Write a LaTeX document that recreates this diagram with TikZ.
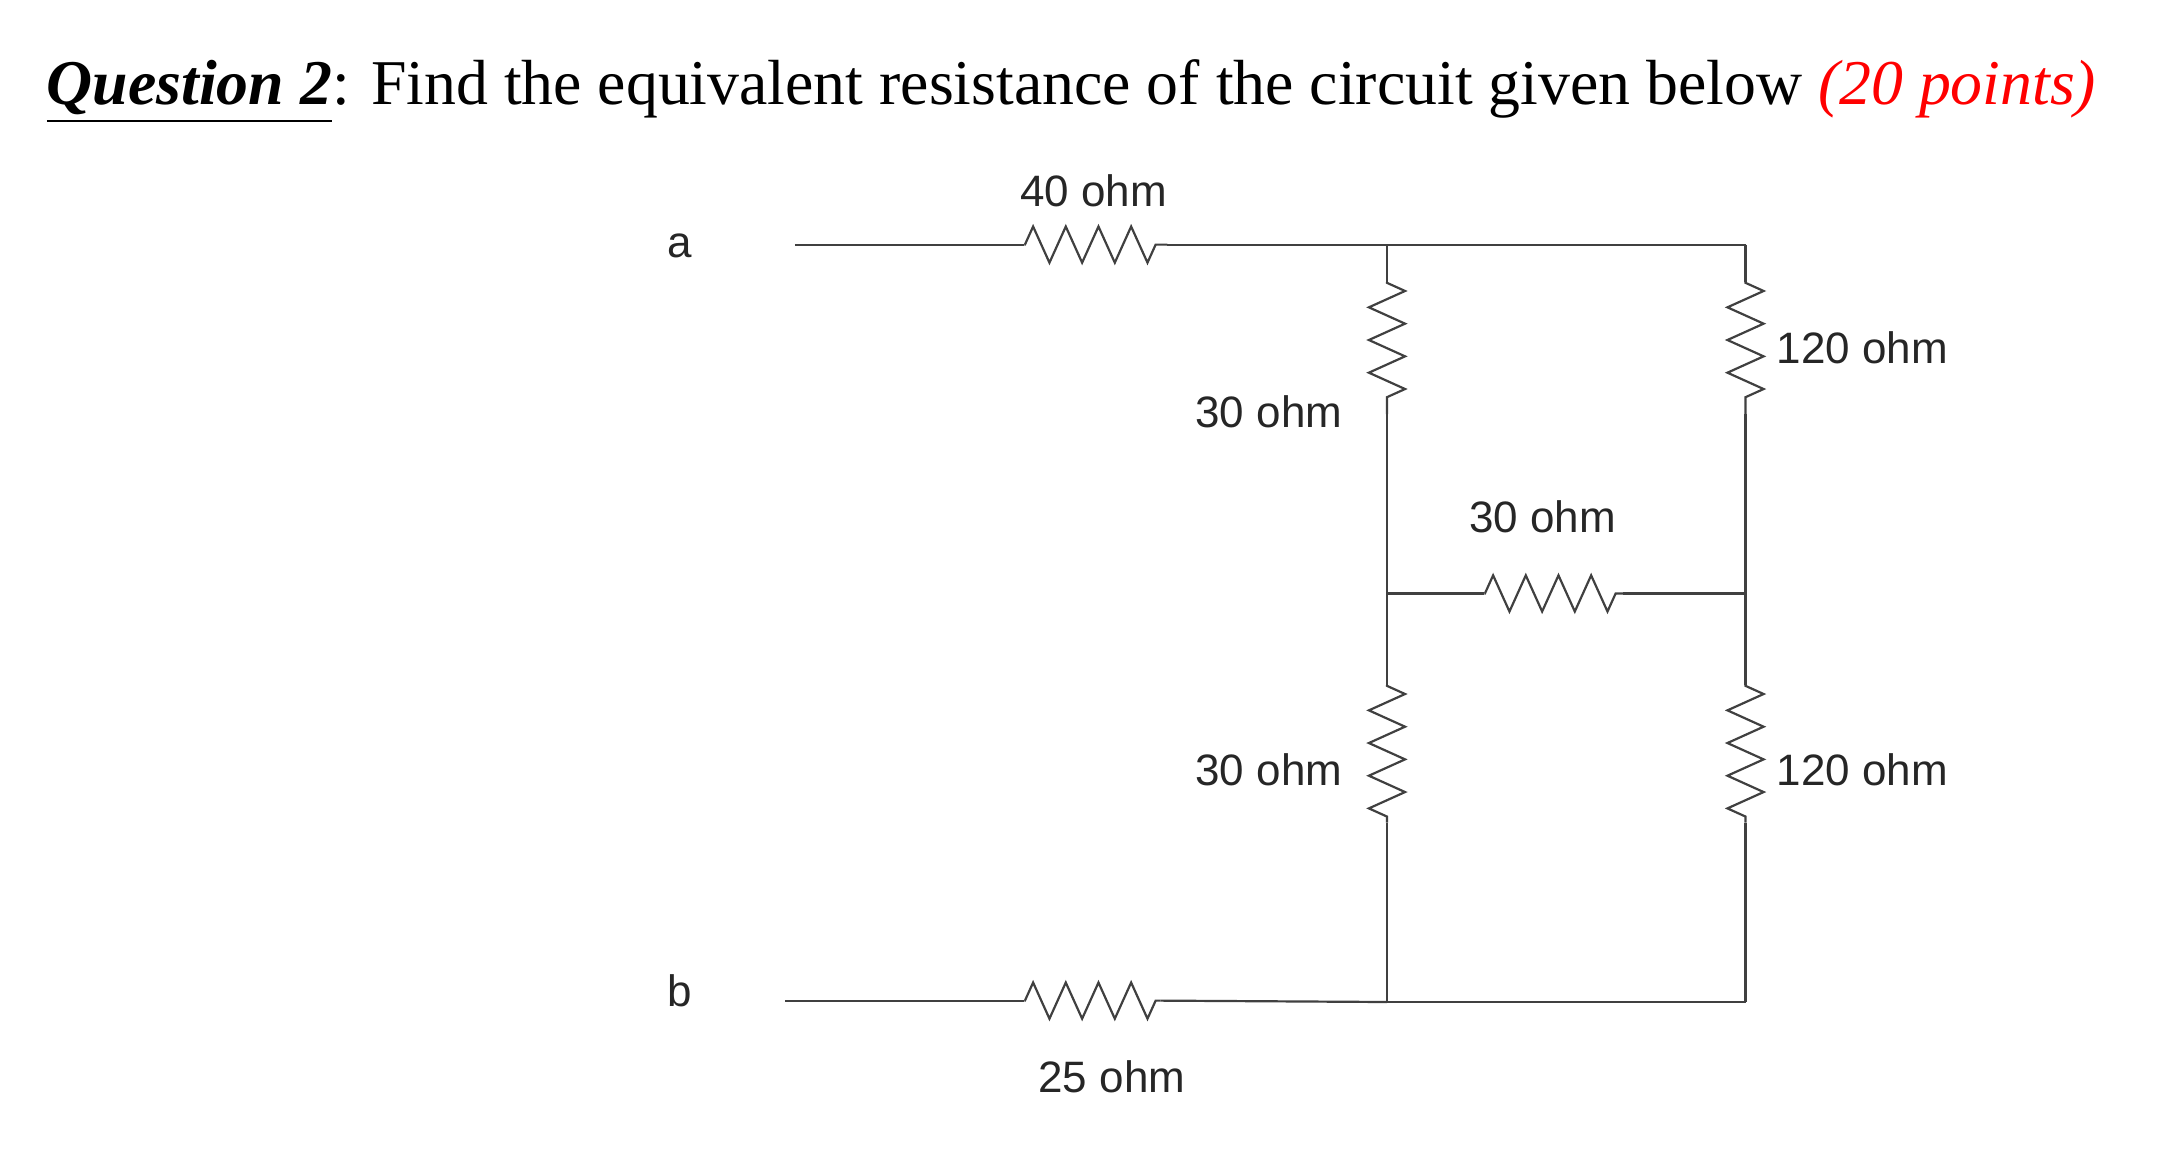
\documentclass[tikz,border=0pt]{standalone}
\usepackage{fontspec}
\setmainfont{Liberation Serif}
\newfontfamily\arialf{Liberation Sans}
\usetikzlibrary{decorations.pathmorphing}
\begin{document}
\begin{tikzpicture}[x=0.01cm,y=-0.01cm,
  wire/.style={draw=black!75,line width=0.45pt},
  res/.style={wire,decorate,decoration={zigzag,segment length=0.235cm,amplitude=0.13cm,pre length=0.005cm,post length=0.005cm}},
  lbl/.style={font=\arialf\fontsize{9}{11}\selectfont,text=black!85,inner sep=0pt}]
\useasboundingbox (0,0) rectangle (1560,845);
\node[anchor=base west,inner sep=0pt,font=\fontsize{13.05}{16}\selectfont] (title) at (33,75)
 {\textbf{\textit{\underline{Question 2}}}: Find the equivalent resistance of the circuit given below \textcolor{red}{\textit{(20 points)}}};
\coordinate (a) at (572,176); \coordinate (r1s) at (737,176); \coordinate (r1e) at (840,176);
\coordinate (tl) at (998,176); \coordinate (tr) at (1256,176);
\coordinate (l1s) at (998,203); \coordinate (l1e) at (998,298);
\coordinate (ml) at (998,427); \coordinate (mr) at (1256,427);
\coordinate (r1a) at (1256,203); \coordinate (r1b) at (1256,298);
\coordinate (hs) at (1068,427); \coordinate (he) at (1168,427);
\coordinate (l2s) at (998,493); \coordinate (l2e) at (998,592);
\coordinate (r2a) at (1256,493); \coordinate (r2b) at (1256,592);
\coordinate (bl) at (998,721); \coordinate (br) at (1256,721);
\coordinate (b) at (565,720); \coordinate (b1s) at (737,720); \coordinate (b1e) at (835,720);
\draw[wire] (a) -- (r1s); \draw[res] (r1s) -- (r1e); \draw[wire] (r1e) -- (tl) -- (tr);
\draw[wire] (tl) -- (l1s); \draw[res] (l1s) -- (l1e); \draw[wire] (l1e) -- (ml) -- (l2s);
\draw[res] (l2s) -- (l2e); \draw[wire] (l2e) -- (bl) -- (br);
\draw[wire] (tr) -- (r1a); \draw[res] (r1a) -- (r1b); \draw[wire] (r1b) -- (mr) -- (r2a);
\draw[res] (r2a) -- (r2b); \draw[wire] (r2b) -- (br);
\draw[wire] (ml) -- (hs); \draw[res] (hs) -- (he); \draw[wire] (he) -- (mr);
\draw[wire] (b) -- (b1s); \draw[res] (b1s) -- (b1e); \draw[wire] (b1e) -- (bl);
\node[lbl] (la) at (489,177) {a};
\node[lbl] (lb) at (489,713) {b};
\node[lbl] (l40) at (787,137) {40 ohm};
\node[lbl] (l30a) at (913,296) {30 ohm};
\node[lbl] (l120a) at (1340,250) {120 ohm};
\node[lbl] (l30m) at (1110,372) {30 ohm};
\node[lbl] (l30b) at (913,554) {30 ohm};
\node[lbl] (l120b) at (1340,554) {120 ohm};
\node[lbl] (l25) at (800,775) {25 ohm};
\end{tikzpicture}
\end{document}
